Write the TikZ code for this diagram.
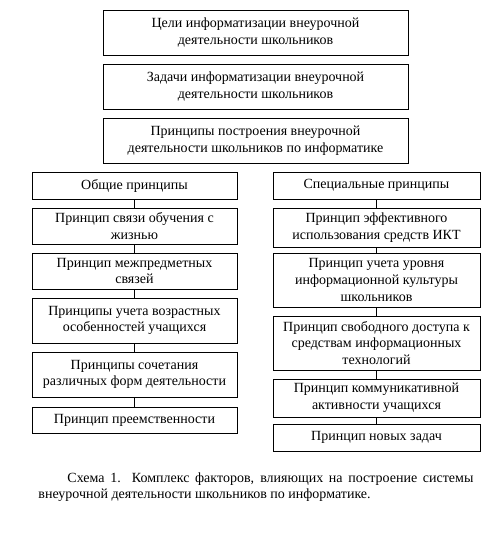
\documentclass[tikz,border=0pt]{standalone}
\usepackage{fontspec}
\setmainfont{Liberation Serif}
\usepackage{tikz}
\tikzset{ princ_box/.style = {rectangle, draw, line width=0.9pt, align=center, inner sep=1pt, font=\fontsize{14pt}{16.8pt}\selectfont} }
\tikzset{ top_box/.style = {princ_box, minimum width=305pt} }
\tikzset{ left_box/.style = {princ_box, minimum width=205pt} }
\tikzset{ right_box/.style = {princ_box, minimum width=207pt} }
\tikzset{ every path/.style = {line width=0.9pt} }

\begin{document}
\begin{tikzpicture}[x=1pt,y=-1pt]
\useasboundingbox (0,0) rectangle (485,533);
\node[top_box, minimum height=45pt] (goals) at (255.5,32.5) {Цели информатизации внеурочной\\деятельности школьников};
\node[top_box, minimum height=45pt] (tasks) at (255.5,86.5) {Задачи информатизации внеурочной\\деятельности школьников};
\node[top_box, minimum height=45pt] (princ) at (255.5,140.5) {Принципы построения внеурочной\\деятельности школьников по информатике};
\node[left_box, minimum height=27pt] (gen) at (134.5,185.5) {Общие принципы};
\node[right_box, minimum height=27pt] (spec) at (376.5,185.5) {Специальные принципы};
% general principles
\node[left_box, minimum height=36pt] (l1) at (134.5,226) {Принцип связи обучения с\\жизнью};
\node[left_box, minimum height=36pt] (l2) at (134.5,271) {Принцип межпредметных\\связей};
\node[left_box, minimum height=45pt] (l3) at (134.5,320.5) {Принципы учета возрастных\\особенностей учащихся};
\node[left_box, minimum height=45pt] (l4) at (134.5,374.5) {Принципы сочетания\\различных форм деятельности};
\node[left_box, minimum height=26pt] (l5) at (134.5,420) {Принцип преемственности};
% special principles
\node[right_box, minimum height=39pt] (r1) at (376.5,227.5) {Принцип эффективного\\использования средств ИКТ};
\node[right_box, minimum height=54pt] (r2) at (376.5,280) {Принцип учета уровня\\информационной культуры\\школьников};
\node[right_box, minimum height=54pt] (r3) at (376.5,343) {Принцип свободного доступа к\\средствам информационных\\технологий};
\node[right_box, minimum height=38pt] (r4) at (376.5,398) {Принцип коммуникативной\\активности учащихся};
\node[right_box, minimum height=27pt] (r5) at (376.5,437.5) {Принцип новых задач};
\draw (gen) -- (l1);
\draw (l1) -- (l2);
\draw (l2) -- (l3);
\draw (l3) -- (l4);
\draw (l4) -- (l5);
\draw (spec) -- (r1);
\draw (r1) -- (r2);
\draw (r2) -- (r3);
\draw (r3) -- (r4);
\draw (r4) -- (r5);
\node[anchor=north west, inner sep=0pt, text width=435pt, align=justify, font=\fontsize{14pt}{16.3pt}\selectfont] (caption) at (38,472) {\hspace*{29pt}Схема 1. Комплекс факторов, влияющих на построение системы внеурочной деятельности школьников по информатике.};
\end{tikzpicture}
\end{document}
